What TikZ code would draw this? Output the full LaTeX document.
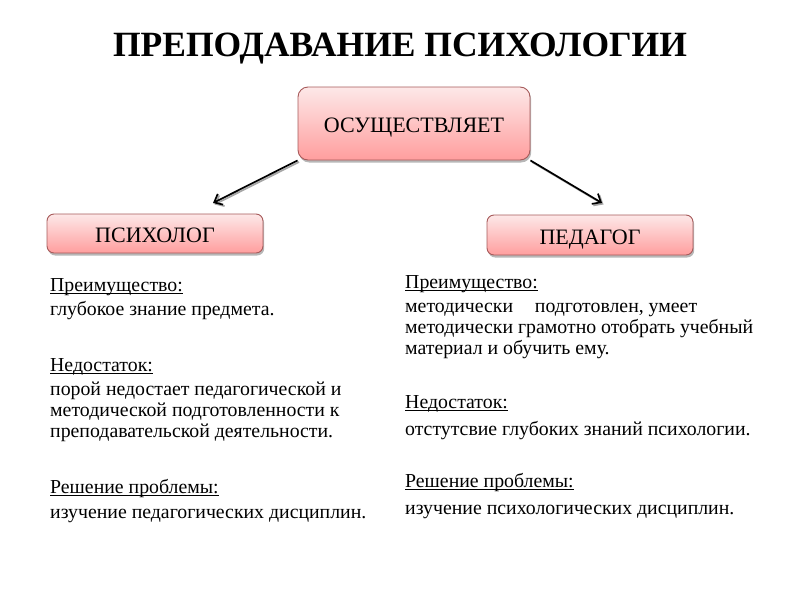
\documentclass[tikz,border=0pt]{standalone}
\usepackage{fontspec}
\setmainfont{Liberation Serif}
\usetikzlibrary{arrows.meta, positioning, shadows}

\definecolor{boxtop}{HTML}{FDE8E8}
\definecolor{boxbot}{HTML}{FF9E9E}
\definecolor{boxline}{HTML}{A65A5A}

\begin{document}
\begin{tikzpicture}[
            x=1pt, y=-1pt,
            >={Straight Barb[length=7pt, width=12pt]},
            rolebox/.style ={draw=boxline, line width=0.9pt, top color=boxtop, bottom color=boxbot,
                             rounded corners=7pt, inner sep=0pt, text height=18pt, text depth=0pt,
                             drop shadow={shadow xshift=1.2pt, shadow yshift=-2.5pt, fill=black!40, opacity=0.7}},
            arr/.style     ={->, line width=1.7pt, draw=black,
                             preaction={draw=black!35, line width=1.7pt, transform canvas={shift={(1.5pt,-1.5pt)}}}},
            hd/.style      ={anchor=base west, inner sep=0pt, font=\fontsize{19.8}{22}\selectfont},
            txt/.style     ={anchor=base west, inner sep=0pt, font=\fontsize{19.8}{22}\selectfont},
            ul/.style      ={line width=0.8pt, draw=black}
        ]
        \useasboundingbox (0,0) rectangle (800,600);

        %% ---- title ---------------------------------------------------------------
        \node[anchor=base, inner sep=0pt, font=\fontsize{35.5}{40}\selectfont\bfseries] (title) at (400,56)
            {ПРЕПОДАВАНИЕ ПСИХОЛОГИИ};

        %% ---- boxes -----------------------------------------------------------------
        \node[rolebox, rounded corners=10pt, minimum width=232pt, minimum height=73pt] (act) at (414,123.5)
            {\fontsize{22}{26}\selectfont ОСУЩЕСТВЛЯЕТ};
        \node[rolebox, minimum width=216pt, minimum height=39pt] (psy) at (155,233.5)
            {\fontsize{22}{24}\selectfont ПСИХОЛОГ};
        \node[rolebox, minimum width=206pt, minimum height=40pt] (ped) at (590,235)
            {\fontsize{22}{24}\selectfont ПЕДАГОГ};

        % arrow ends stop just above the lower boxes
        \coordinate (psytip) at (213,203);
        \coordinate (pedtip) at (602,203);
        \draw[arr] (act.south west) -- (psytip);
        \draw[arr] (act.south east) -- (pedtip);

        %% ---- left column: psychologist -------------------------------------------
        \node[hd]  (lpro)  at (50,291) {Преимущество:};
        \node[txt] (lpro1) at (50,315) {глубокое знание предмета.};
        \node[hd]  (lcon)  at (50,371) {Недостаток:};
        \node[txt] (lcon1) at (50,395) {порой недостает педагогической и};
        \node[txt] (lcon2) at (50,416) {методической подготовленности к};
        \node[txt] (lcon3) at (50,437) {преподавательской деятельности.};
        \node[hd]  (lsol)  at (50,493) {Решение проблемы:};
        \node[txt] (lsol1) at (50,518) {изучение педагогических дисциплин.};

        %% ---- right column: teacher -----------------------------------------------
        \node[hd]  (rpro)  at (405,288) {Преимущество:};
        \node[txt] (rpro1) at (405,312) {методически\hspace*{1.1em}подготовлен, умеет};
        \node[txt] (rpro2) at (405,333) {методически грамотно отобрать учебный};
        \node[txt] (rpro3) at (405,354) {материал и обучить ему.};
        \node[hd]  (rcon)  at (405,408) {Недостаток:};
        \node[txt] (rcon1) at (405,435) {отстутсвие глубоких знаний психологии.};
        \node[hd]  (rsol)  at (405,487) {Решение проблемы:};
        \node[txt] (rsol1) at (405,514) {изучение психологических дисциплин.};

        % underlines of the headings, just under the baseline
        \foreach \h in {lpro, lcon, lsol, rpro, rcon, rsol}
            \draw[ul] ([yshift=-2.2pt]\h.base west) -- ([yshift=-2.2pt]\h.base east);
    \end{tikzpicture}
\end{document}
